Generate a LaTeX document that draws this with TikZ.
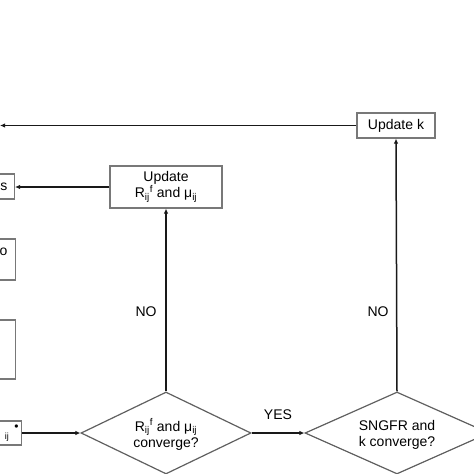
\documentclass[tikz,border=0pt]{standalone}
\usepackage{fontspec}
\setmainfont{Liberation Sans}
\usetikzlibrary{shapes.geometric,arrows.meta}
\definecolor{boxgray}{RGB}{120,120,120}
\definecolor{linedark}{RGB}{25,25,25}
\begin{document}
\begin{tikzpicture}[x=1pt,y=-1pt,
  font=\fontsize{14}{16}\selectfont,
  procbox/.style={draw=boxgray, line width=1.2pt, rectangle, inner sep=0pt, align=center},
  decision/.style={draw=boxgray!80!black, line width=1.2pt, diamond, inner sep=0pt, align=center},
  flow/.style={draw=linedark, line width=1.5pt, -{Latex[length=5pt,width=4.5pt]}},
  lbl/.style={inner sep=0pt}]
\useasboundingbox (0,0) rectangle (474,474);
\clip (0,0) rectangle (474,474);
\fill[white] (0,0) rectangle (474,474);
% boxes
\node[procbox, minimum width=78pt, minimum height=25pt] (updk) at (396,125.5) {Update k};
\node[procbox, minimum width=112pt, minimum height=42pt] (updR) at (166,187) {Update\\R\textsubscript{ij}\textsuperscript{f} and μ\textsubscript{ij}};
\node[procbox, minimum width=50pt, minimum height=25pt, anchor=east] (boxs) at (15,186.5) {};
\node[lbl, anchor=east] (ts) at (7.5,187) {s};
\node[procbox, minimum width=50pt, minimum height=41pt, anchor=east] (boxo) at (16,259.5) {};
\node[lbl, anchor=east] (to) at (7.5,252) {o};
\node[procbox, minimum width=50pt, minimum height=59pt, anchor=east] (boxe) at (16,349.5) {};
\node[procbox, minimum width=50pt, minimum height=24pt, anchor=east] (boxr) at (22,433) {};
\node[lbl, anchor=east, font=\fontsize{9}{10}\selectfont] (tij) at (9,437) {ij};
\node[lbl, font=\fontsize{12}{12}\selectfont] (tst) at (16.5,428) {•};
% decisions
\node[decision, shape aspect=2.07, minimum width=170pt, minimum height=82pt] (d1) at (166,433) {};
\node[lbl, align=center] (t1) at (166,434.5) {R\textsubscript{ij}\textsuperscript{f} and μ\textsubscript{ij}\\converge?};
\node[decision, shape aspect=2.24, minimum width=184pt, minimum height=82pt] (d2) at (397,433) {};
\node[lbl, align=center] (t2) at (397,434.5) {SNGFR and\\k converge?};
% left exit point
\coordinate (lefttop) at (0,125.5);
% connectors
\draw[flow] (updk.west) -- (lefttop);
\draw[flow] (updR.west) -- (boxs.east |- updR.west);
\draw[flow] (boxr.east) -- (d1.west);
\draw[flow] (d1.north) -- (updR.south);
\draw[flow] (d1.east) -- (d2.west);
\draw[flow] (d2.north) -- (updk.south);
% labels
\node[lbl] (no1) at (146,312) {NO};
\node[lbl] (no2) at (378,312) {NO};
\node[lbl] (yes) at (278,415) {YES};
\end{tikzpicture}
\end{document}
